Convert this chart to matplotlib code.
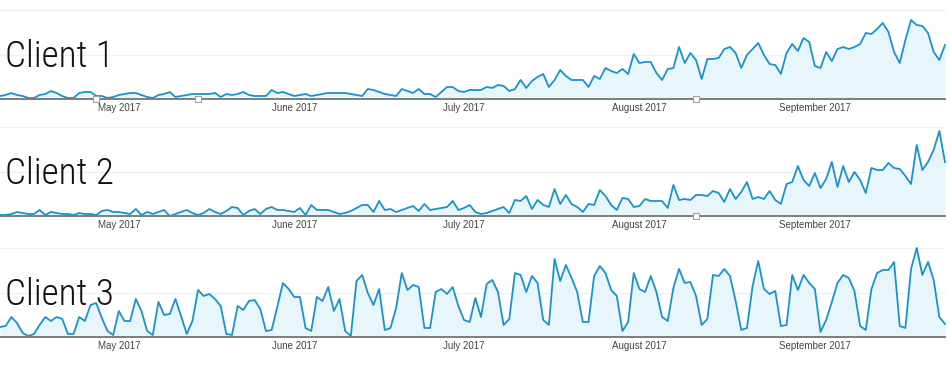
import matplotlib.pyplot as plt
from matplotlib import font_manager as fm
import pandas as pd

# daily values, 10 Apr 2017 - 24 Sep 2017 (arbitrary units)
dates = pd.date_range("2017-04-10", periods=168, freq="D")

client_1 = [3, 4, 6, 4, 3, 1, 1, 4, 5, 8, 6, 3, 1, 1, 6, 7, 7, 3, 3, 1,
            2, 4, 5, 6, 6, 4, 2, 1, 4, 5, 7, 2, 3, 4, 5, 5, 5, 5, 6, 2,
            5, 4, 5, 7, 4, 3, 3, 3, 9, 6, 7, 5, 3, 4, 5,
            3, 4, 5, 6, 6, 6, 6, 5, 4, 3, 10, 9, 7, 5, 4, 3, 10, 8, 6, 10,
            5, 5, 2, 7, 12, 12, 8, 7, 9, 9, 9, 12, 11, 14, 13, 8, 10, 19, 11, 18,
            22, 25, 12, 19, 29, 23, 19, 19, 19, 12, 23, 20, 31, 28, 26, 30, 25,
            45, 36, 37, 37, 26, 19, 30, 31, 52, 36, 46, 39, 20, 40, 40, 41, 50, 52, 46, 31,
            44, 50, 56, 44, 35, 34, 25, 46, 55, 48, 61, 57, 33, 31, 47, 38, 50, 52, 50, 52,
            55, 66, 65, 70, 76, 67, 47, 36, 59, 79, 74, 73, 66, 47, 39, 54]

client_2 = [1, 1, 2, 4, 3, 2, 2, 6, 1, 4, 3, 2, 2, 1, 3, 2, 2, 1, 5, 6,
            4, 4, 3, 2, 7, 1, 4, 2, 4, 6, 0, 2, 4, 6, 3, 1, 3, 7, 4, 2,
            5, 9, 8, 1, 5, 7, 2, 7, 9, 6, 6, 5, 4, 8, 1,
            11, 6, 6, 6, 4, 2, 3, 5, 8, 11, 11, 4, 15, 6, 7, 4, 6, 8, 10, 5,
            12, 6, 7, 8, 9, 15, 6, 8, 11, 4, 2, 3, 5, 7, 9, 3, 16, 15, 20, 7,
            16, 11, 9, 27, 12, 21, 12, 9, 4, 12, 11, 26, 20, 11, 6, 18, 17,
            9, 10, 17, 15, 15, 15, 8, 31, 16, 17, 16, 21, 21, 20, 25, 23, 14, 27, 17, 24,
            34, 17, 19, 17, 25, 16, 12, 32, 34, 50, 36, 30, 43, 28, 37, 54, 29, 50, 34, 44,
            36, 23, 48, 46, 46, 53, 48, 47, 40, 32, 71, 46, 54, 66, 85, 54]

client_3 = [10, 11, 20, 14, 4, 1, 3, 12, 20, 16, 20, 18, 3, 3, 20, 16, 32, 34, 19, 6,
            2, 26, 16, 16, 38, 26, 6, 2, 35, 22, 23, 38, 21, 3, 16, 47, 41, 43, 38, 31,
            3, 2, 31, 27, 36, 37, 28, 6, 7, 30, 54, 48, 40, 40, 9, 6, 40,
            36, 50, 26, 38, 6, 1, 56, 62, 44, 32, 48, 7, 9, 29, 64, 47, 52, 50, 9, 9,
            45, 48, 43, 50, 31, 17, 15, 39, 20, 53, 57, 45, 12, 18, 64, 62, 45, 61, 54, 17,
            12, 78, 56, 72, 59, 45, 15, 15, 61, 71, 64, 47, 41, 6, 15,
            64, 48, 45, 61, 45, 20, 16, 49, 68, 54, 55, 41, 12, 18, 62, 61, 68, 61, 36, 7,
            9, 51, 76, 48, 43, 46, 11, 12, 62, 47, 62, 54, 48, 5, 17, 35, 54, 62, 59, 46,
            11, 7, 48, 64, 67, 67, 75, 11, 9, 68, 89, 62, 75, 57, 20, 13]

month_ticks = ["2017-05-01", "2017-06-01", "2017-07-01", "2017-08-01", "2017-09-01"]
month_labels = ["May 2017", "June 2017", "July 2017", "August 2017", "September 2017"]

# GA annotation markers on the time axis
notes_1 = ["2017-04-27", "2017-05-15", "2017-08-11"]
notes_2 = ["2017-08-11"]
notes_3 = []

panels = [("Client 1", client_1, notes_1, 99, 67),
          ("Client 2", client_2, notes_2, 216, 184),
          ("Client 3", client_3, notes_3, 337, 305)]


def pick_font(cands):  # first family that is really installed
    for c in cands:
        try:
            fm.findfont(fm.FontProperties(family=c), fallback_to_default=False)
            return c
        except ValueError:
            pass
    return "DejaVu Sans"


title_font = pick_font(["Roboto Condensed", "Liberation Sans Narrow", "Open Sans Condensed",
                        "Roboto", "Lato"])

W, H = 950, 370
fig = plt.figure(figsize=(W / 100, H / 100), dpi=100)
renderer = fig.canvas.get_renderer()

# fit the big labels roughly to the width they take in the screenshot
probe = fig.text(0, 0, "Client 1", fontsize=29, family=title_font, weight="light")
w = probe.get_window_extent(renderer).width
probe.remove()
title_size = 29 * min(1.0, (103 / w) ** 0.6)

for name, values, notes, base_y, text_y in panels:
    ax = fig.add_axes([0.0, 1 - base_y / H, 945 / W, 89 / H])
    ax.fill_between(dates, values, color="#e8f5fb", lw=0)
    ax.plot(dates, values, color="#1a93c9", lw=1.3, clip_on=False)
    ax.set_xlim(dates[0], dates[-1])
    ax.set_ylim(0, 89)
    ax.set_yticks([44.5, 89])
    ax.set_yticklabels([])
    ax.tick_params(axis="y", length=0)
    ax.grid(axis="y", color="#eef1f3", lw=1)
    ax.set_axisbelow(True)
    for s in ["top", "left", "right"]:
        ax.spines[s].set_visible(False)
    ax.spines["bottom"].set_color("#7d7d7d")
    ax.spines["bottom"].set_linewidth(1.4)
    ax.set_xticks(pd.to_datetime(month_ticks))
    ax.set_xticklabels(month_labels, fontsize=7, color="#444444",
                       family=["Liberation Sans", "DejaVu Sans"])
    ax.tick_params(axis="x", length=0, pad=3)
    if notes:
        nd = pd.to_datetime(notes)
        ax.plot(nd, [0] * len(nd), ls="none", marker="s", ms=4.5, mfc="white",
                mec="#a0a0a0", mew=0.8, clip_on=False, zorder=5)
    fig.text(5 / W, 1 - text_y / H, name, fontsize=title_size, color="#111111",
             va="baseline", family=title_font, weight="light")

fig.savefig("out.png", dpi=100)
